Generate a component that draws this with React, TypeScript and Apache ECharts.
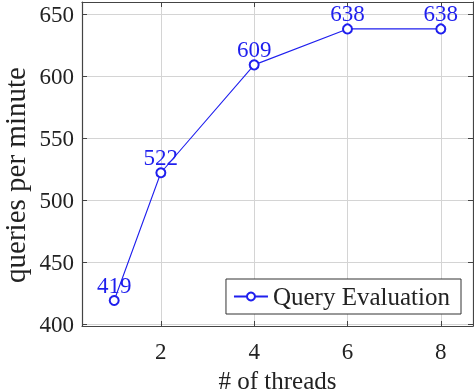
import React, { useEffect, useRef } from "react";
import * as echarts from "echarts";

const threads = [1, 2, 4, 6, 8];
const queriesPerMinute = [419, 522, 609, 638, 638];
const xTicks = [2, 4, 6, 8];
const yTicks = [400, 450, 500, 550, 600, 650];
const seriesName = "Query Evaluation";
const xName = "# of threads";
const yName = "queries per minute";

const SERIF = "'Liberation Serif', 'DejaVu Serif', serif";
const BLUE = "#1f1fee";
const FRAME = "#444444";

export default function App() {
  const ref = useRef<HTMLDivElement>(null);
  useEffect(() => {
    if (!ref.current) return;
    const chart = echarts.init(ref.current, null, { renderer: "svg" });
    const xMin = 0.31, xMax = 8.69, yMin = 398.4, yMax = 659.7;
    const frameLine = { show: true, onZero: false, lineStyle: { color: FRAME, width: 1.2 } };
    const tick = (vals: number[]) => ({ show: true, inside: true, length: 5, lineStyle: { color: FRAME, width: 1 }, customValues: vals });
    chart.setOption({
      animation: false,
      grid: { left: 82, top: 2, right: 1, bottom: 66, containLabel: false, outerBoundsMode: "none" },
      xAxis: [
        {
          type: "value", min: xMin, max: xMax, position: "bottom",
          axisLine: frameLine,
          axisTick: tick(xTicks),
          axisLabel: { customValues: xTicks, fontFamily: SERIF, fontSize: 23, color: "#222", margin: 14 },
          splitLine: { show: true, lineStyle: { color: "#d4d4d4", width: 1 } },
          name: xName, nameLocation: "middle", nameGap: 41,
          nameTextStyle: { fontFamily: SERIF, fontSize: 25, color: "#222" },
        },
        {
          type: "value", min: xMin, max: xMax, position: "top",
          axisLine: frameLine, axisTick: tick(xTicks),
          axisLabel: { show: false }, splitLine: { show: false },
        },
      ],
      yAxis: [
        {
          type: "value", min: yMin, max: yMax, position: "left",
          axisLine: frameLine,
          axisTick: tick(yTicks),
          axisLabel: { customValues: yTicks, fontFamily: SERIF, fontSize: 23, color: "#222", margin: 8 },
          splitLine: { show: true, lineStyle: { color: "#d4d4d4", width: 1 } },
        },
        {
          type: "value", min: yMin, max: yMax, position: "right",
          axisLine: frameLine, axisTick: tick(yTicks),
          axisLabel: { show: false }, splitLine: { show: false },
        },
      ],
      legend: {
        data: [seriesName],
        right: 13, top: 279,
        orient: "horizontal",
        backgroundColor: "#ffffff",
        borderColor: "#333333", borderWidth: 1, borderRadius: 0,
        padding: [5, 11, 5, 7],
        itemWidth: 34, itemHeight: 10, itemGap: 6,
        textStyle: { fontFamily: SERIF, fontSize: 25, color: "#222" },
      },
      graphic: [
        {
          type: "text", x: 15, y: 175, rotation: Math.PI / 2,
          style: { text: yName, fontFamily: SERIF, fontSize: 29, fill: "#222", textAlign: "center", textVerticalAlign: "middle" },
        },
      ],
      series: [
        {
          name: seriesName, type: "line",
          data: threads.map((t, i) => [t, queriesPerMinute[i]]),
          symbol: "emptyCircle", symbolSize: 9,
          lineStyle: { color: BLUE, width: 1.1 },
          itemStyle: { color: BLUE, borderColor: BLUE, borderWidth: 1.1 },
          label: { show: true, position: "top", distance: -2, fontFamily: SERIF, fontSize: 23, color: BLUE },
          z: 3,
        },
      ],
    });
    return () => chart.dispose();
  }, []);
  return <div ref={ref} style={{ width: 474, height: 392, position: "fixed", left: 0, top: 0 }} />;
}
